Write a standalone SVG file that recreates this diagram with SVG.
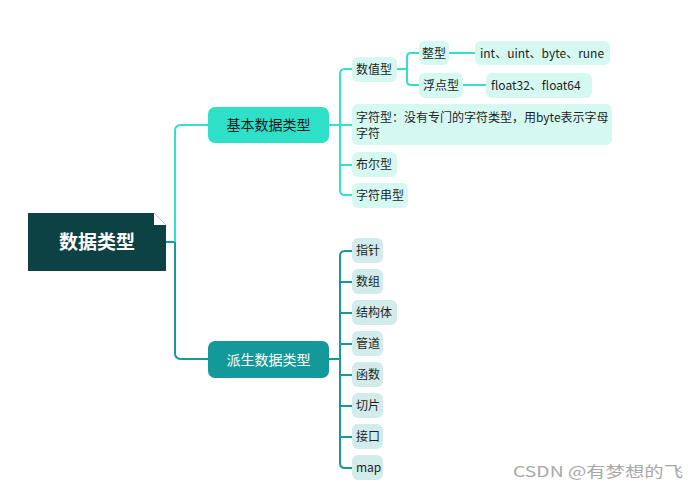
<svg xmlns="http://www.w3.org/2000/svg" width="699" height="491" viewBox="0 0 699 491">
<style>
text{font-family:"Noto Sans CJK SC","Noto Sans",sans-serif;}
.t{font-size:12px;fill:#1f1f1f;}
.up{fill:#d5f8f1;}
.lo{fill:#d2ecec;}
.lu{fill:none;stroke:#33e0ca;stroke-width:2;}
.ll{fill:none;stroke:#17999a;stroke-width:2;}
</style>
<rect width="699" height="491" fill="#ffffff"/>
<g id="connectors">
<path class="ll" d="M165,242 H176"/>
<path class="lu" d="M175,242 V131 Q175,125 181,125 H208"/>
<path class="ll" d="M175,242 V353 Q175,359 181,359 H208"/>
<path class="lu" d="M329,125 H352"/>
<path class="lu" d="M352,69 H345 Q340,69 340,74 V190 Q340,195 345,195 H352"/>
<path class="lu" d="M340,165 H352"/>
<path class="lu" d="M397,69 H407"/>
<path class="lu" d="M419,53 H411 Q407,53 407,57 V81 Q407,85 411,85 H419"/>
<path class="lu" d="M449,53 H475"/>
<path class="lu" d="M463,85 H486"/>
<path class="ll" d="M329,359 H340"/>
<path class="ll" d="M352,251 H345 Q340,251 340,256 V463 Q340,468 345,468 H352"/>
<path class="ll" d="M340,282 H352 M340,313 H352 M340,344 H352 M340,375 H352 M340,406 H352 M340,437 H352"/>
</g>
<g id="root">
<polygon points="28,213 154,213 166,225 166,271 28,271" fill="#0d4245"/>
<polygon points="154,213 154,225 166,225" fill="#ffffff"/>
<text x="97" y="249" font-size="19" font-weight="bold" fill="#ffffff" text-anchor="middle">数据类型</text>
</g>
<g id="basic">
<rect x="208" y="107" width="121" height="36" rx="7" fill="#2fe0c9"/>
<text x="268.5" y="130" font-size="14" fill="#1a1a1a" text-anchor="middle">基本数据类型</text>
</g>
<g id="derived">
<rect x="208" y="341" width="121" height="37" rx="7" fill="#14999a"/>
<text x="268.5" y="364.5" font-size="14" fill="#ffffff" text-anchor="middle">派生数据类型</text>
</g>
<g id="numeric">
<rect class="up" x="352" y="57" width="45" height="25" rx="6"/>
<text class="t" x="356" y="74">数值型</text>
</g>
<g id="int">
<rect class="up" x="419" y="41" width="30" height="24" rx="6"/>
<text class="t" x="422" y="57.5">整型</text>
</g>
<g id="float">
<rect class="up" x="419" y="73" width="44" height="25" rx="6"/>
<text class="t" x="423" y="89.5">浮点型</text>
</g>
<g id="intlist">
<rect class="up" x="475" y="41" width="135" height="24" rx="6"/>
<text class="t" x="480" y="57.5">int、uint、byte、rune</text>
</g>
<g id="floatlist">
<rect class="up" x="486" y="73" width="106" height="25" rx="6"/>
<text class="t" x="491" y="89.5">float32、float64</text>
</g>
<g id="char">
<rect class="up" x="352" y="104" width="260" height="41" rx="6"/>
<text class="t" x="356" y="122">字符型：没有专门的字符类型，用byte表示字母</text>
<text class="t" x="356" y="138">字符</text>
</g>
<g id="bool">
<rect class="up" x="352" y="152" width="45" height="25" rx="6"/>
<text class="t" x="356" y="169">布尔型</text>
</g>
<g id="string">
<rect class="up" x="352" y="183" width="56" height="25" rx="6"/>
<text class="t" x="356" y="200">字符串型</text>
</g>
<g id="pointer">
<rect class="lo" x="352" y="238" width="31" height="25" rx="6"/>
<text class="t" x="356" y="255">指针</text>
</g>
<g id="array">
<rect class="lo" x="352" y="269" width="31" height="25" rx="6"/>
<text class="t" x="356" y="286">数组</text>
</g>
<g id="struct">
<rect class="lo" x="352" y="300" width="45" height="25" rx="6"/>
<text class="t" x="356" y="317">结构体</text>
</g>
<g id="channel">
<rect class="lo" x="352" y="331" width="31" height="25" rx="6"/>
<text class="t" x="356" y="348">管道</text>
</g>
<g id="func">
<rect class="lo" x="352" y="362" width="31" height="25" rx="6"/>
<text class="t" x="356" y="379">函数</text>
</g>
<g id="slice">
<rect class="lo" x="352" y="393" width="31" height="25" rx="6"/>
<text class="t" x="356" y="410">切片</text>
</g>
<g id="iface">
<rect class="lo" x="352" y="424" width="31" height="25" rx="6"/>
<text class="t" x="356" y="441">接口</text>
</g>
<g id="map">
<rect class="lo" x="352" y="455" width="31" height="25" rx="6"/>
<text class="t" x="356" y="472">map</text>
</g>
<text x="513" y="477" font-size="15" fill="#a8a8a8" textLength="170" lengthAdjust="spacingAndGlyphs">CSDN @有梦想的飞</text>
</svg>
